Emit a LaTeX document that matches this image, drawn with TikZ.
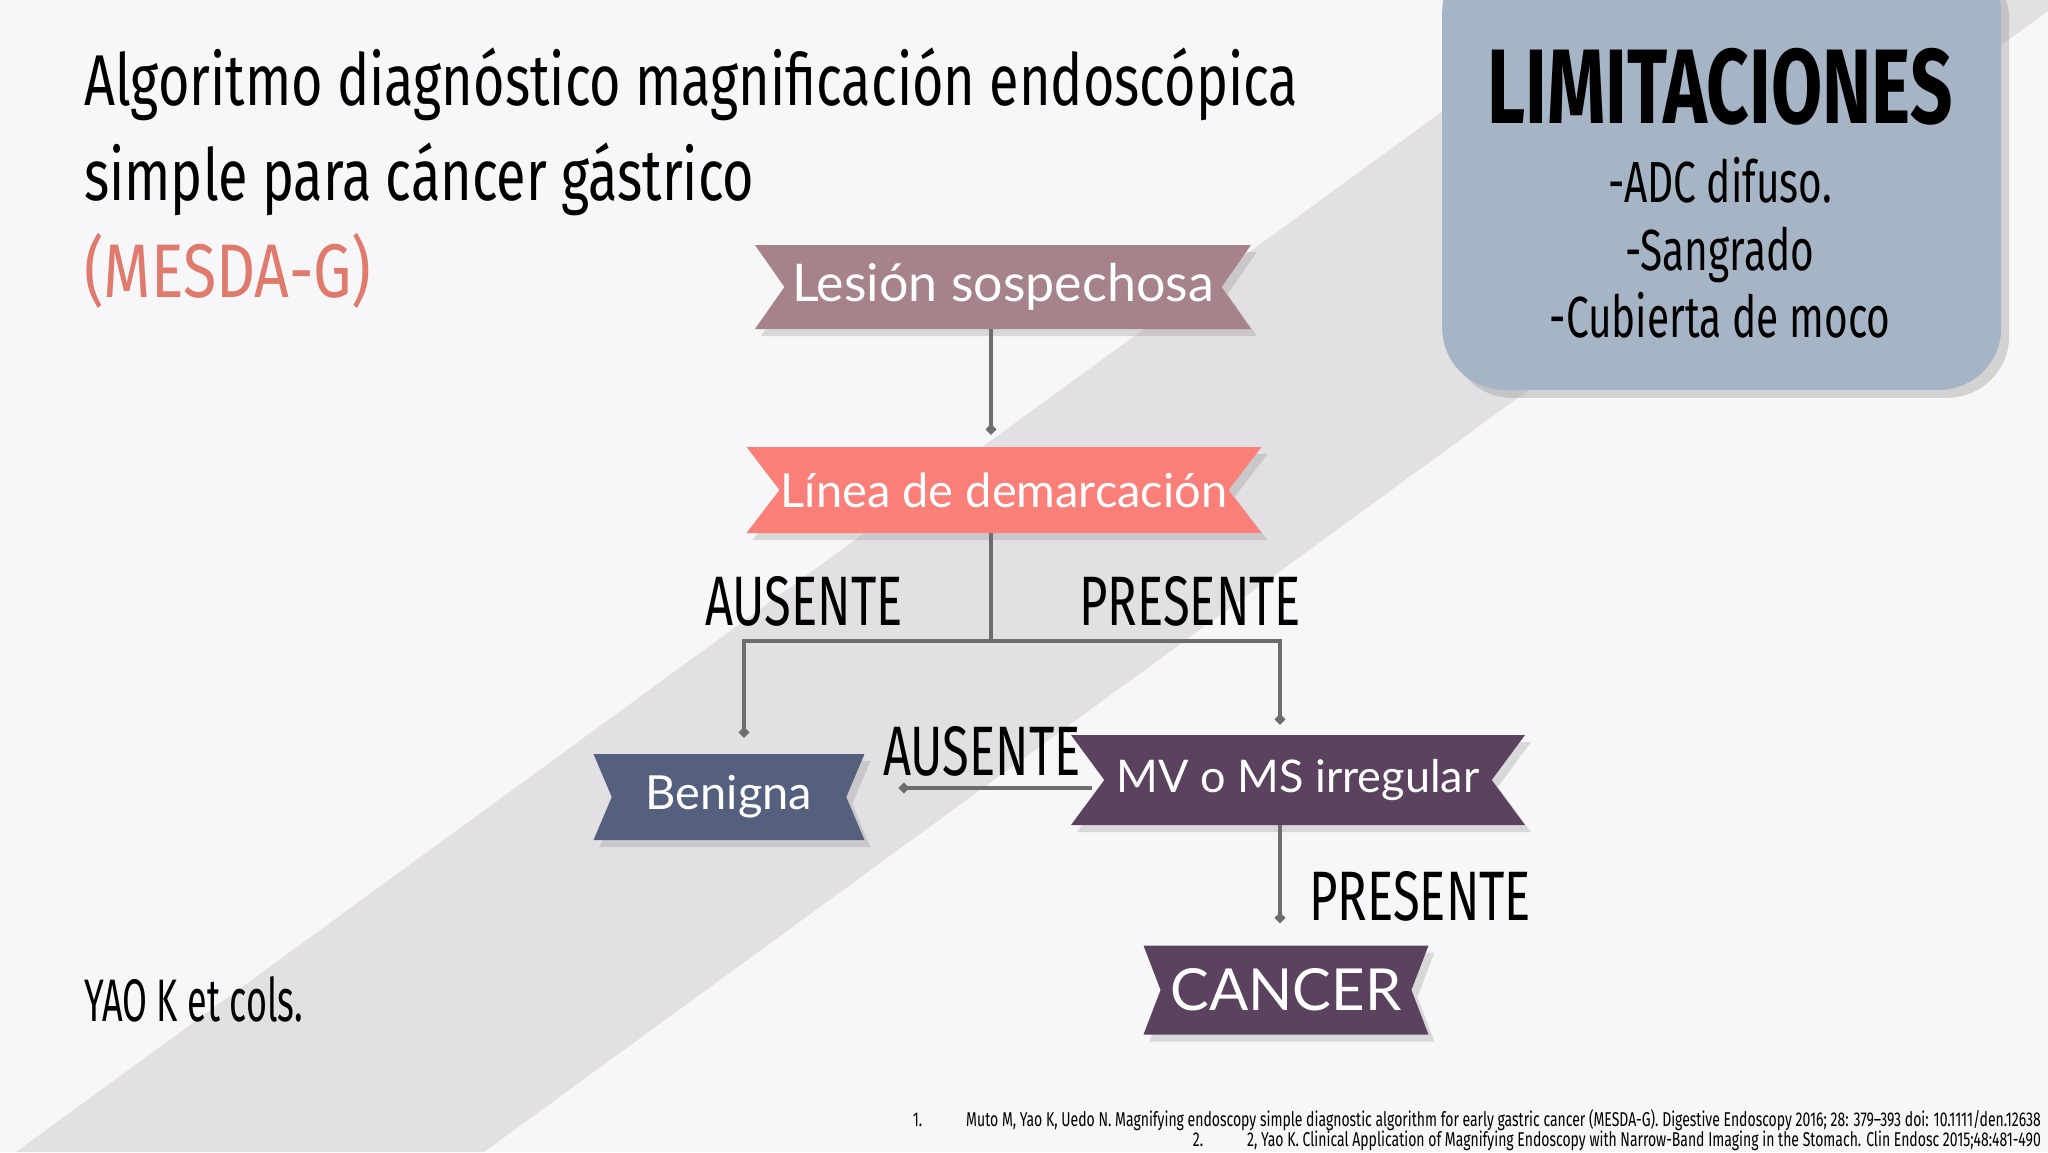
\documentclass[tikz,border=0pt]{standalone}
\usepackage{fontspec}
\setmainfont{Fira Sans}
\newfontfamily\condfont[FakeStretch=0.75]{Fira Sans}
\newfontfamily\labelfont[FakeStretch=0.7]{Fira Sans}
\newfontfamily\narrowfont[FakeStretch=0.6]{Fira Sans}
\newfontfamily\mesdafont[FakeStretch=0.8]{Fira Sans}
\newfontfamily\headfont[FakeStretch=0.7]{Fira Sans}
\newfontfamily\ribbonfont{Lato}
\usepackage{xcolor}
\usepackage{tikz}
\usetikzlibrary{arrows.meta,positioning,calc,shapes.symbols,shadows}

\definecolor{bgcol}{HTML}{F7F6F8}
\definecolor{bandcol}{HTML}{E2E0E3}
\definecolor{mauve}{HTML}{A6828B}
\definecolor{salmon}{HTML}{FA7F78}
\definecolor{slate}{HTML}{55607F}
\definecolor{plum}{HTML}{5B425F}
\definecolor{limcol}{HTML}{A5B5C5}
\definecolor{conncol}{HTML}{6D6D6D}
\definecolor{titlered}{HTML}{E07A6C}

\begin{document}
\begin{tikzpicture}[
  x=1pt, y=-1pt,
  ribbon/.style={shape=signal, signal from=west and east, signal to=nowhere,
    inner sep=0pt, text=white, font=\ribbonfont\fontsize{47}{56}\selectfont,
    drop shadow={opacity=0.25, shadow xshift=6pt, shadow yshift=-7pt}},
  lbl/.style={anchor=base west, inner sep=0pt, font=\labelfont\fontsize{70}{80}\selectfont},
  item/.style={anchor=base, inner sep=0pt, font=\labelfont\fontsize{58}{68}\selectfont},
  ttl/.style={anchor=base west, inner sep=0pt, font=\condfont\fontsize{72}{84}\selectfont},
  refs/.style={anchor=base east, inner sep=0pt, font=\labelfont\fontsize{20}{24}\selectfont},
  line/.style={draw=conncol, line width=4.5pt},
  conn/.style={line, -{Diamond[length=11pt,width=11pt]}},
]
\useasboundingbox (0,0) rectangle (2048,1152);
% background and diagonal band
\fill[bgcol] (0,0) rectangle (2048,1152);
\fill[bandcol] (1595,0) -- (2063,0) -- (484,1152) -- (16,1152) -- cycle;

% title
\node[ttl] (title1) at (84,105) {Algoritmo diagnóstico magnificación endoscópica};
\node[ttl] (title2) at (84,200) {simple para cáncer gástrico};
\node[ttl, text=titlered, font=\mesdafont\fontsize{76}{84}\selectfont] (mesda) at (84,297) {(MESDA-G)};

% limitations box
\node[fill=limcol, rounded corners=62pt, minimum width=559pt, minimum height=440pt, anchor=south west,
  drop shadow={opacity=0.3, shadow xshift=8pt, shadow yshift=-8pt}] (limits) at (1442,390) {};
\node[anchor=base, inner sep=0pt, font=\headfont\bfseries\fontsize{106}{120}\selectfont] (limtitle) at (1720,123) {LIMITACIONES};
\node[item] (adc) at (1720,202) {-ADC difuso.};
\node[item] (sang) at (1720,270) {-Sangrado};
\node[item] (moco) at (1720,337) {-Cubierta de moco};

% flow
\node[ribbon, fill=mauve, minimum width=496pt, minimum height=84pt, signal pointer angle=110,
  font=\ribbonfont\fontsize{52}{60}\selectfont] (lesion) at (1003,287) {Lesión sospechosa};
\node[ribbon, fill=salmon, minimum width=515pt, minimum height=86pt, signal pointer angle=105] (linea) at (1004,490) {Línea de demarcación};
\node[ribbon, fill=slate, minimum width=271pt, minimum height=86pt, signal pointer angle=134] (benigna) at (729,797) {Benigna};
\node[ribbon, fill=plum, minimum width=454pt, minimum height=90pt, signal pointer angle=107,
  font=\ribbonfont\fontsize{45}{54}\selectfont] (mv) at (1298,780) {MV o MS irregular};
\node[ribbon, fill=plum, minimum width=285pt, minimum height=89pt, signal pointer angle=138,
  font=\ribbonfont\fontsize{58}{68}\selectfont] (cancer) at (1286,990) {CANCER};

\node[lbl] (aus1) at (705,625) {AUSENTE};
\node[lbl] (pres1) at (1079,625) {PRESENTE};
\node[lbl] (aus2) at (883,775) {AUSENTE};
\node[lbl] (pres2) at (1309,920) {PRESENTE};

\draw[conn, shorten >=12pt] ([xshift=-12pt]lesion.south) -- ([xshift=-12pt]lesion.south |- linea.north);
\draw[line] ([xshift=-13pt]linea.south) -- ++(0,108) coordinate (split);
\draw[conn, shorten >=16pt] (split) -| ([xshift=15pt]benigna.north);
\draw[conn, shorten >=10pt] (split) -| ([xshift=-18pt]mv.north);
\draw[conn, shorten >=52pt] ([xshift=-12pt,yshift=-8pt]mv.west) -- ([yshift=-8pt]mv.west -| benigna.east);
\draw[conn, shorten >=22pt] ([xshift=-18pt]mv.south) -- ([xshift=-18pt]mv.south |- cancer.north);

% credits
\node[anchor=base west, inner sep=0pt, font=\narrowfont\fontsize{60}{70}\selectfont] (yao) at (84,1021) {YAO K et cols.};
\node[refs] (ref1) at (2041,1126)
  {1.\hspace{44pt}Muto M, Yao K, Uedo N. Magnifying endoscopy simple diagnostic algorithm for early gastric cancer (MESDA-G). Digestive Endoscopy 2016; 28: 379–393 doi: 10.1111/den.12638};
\node[refs] (ref2) at (2041,1146)
  {2.\hspace{44pt}2, Yao K. Clinical Application of Magnifying Endoscopy with Narrow-Band Imaging in the Stomach. Clin Endosc 2015;48:481-490};
\end{tikzpicture}
\end{document}
